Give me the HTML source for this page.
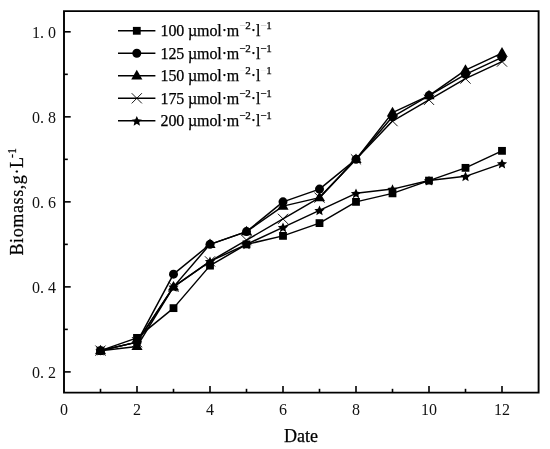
<!DOCTYPE html>
<html><head><meta charset="utf-8"><style>
html,body{margin:0;padding:0;background:#fff;width:550px;height:449px;overflow:hidden}
svg{display:block}
</style></head><body>
<svg width="550" height="449" viewBox="0 0 550 449">
<rect width="550" height="449" fill="#fff"/>
<polyline points="100.50,350.64 137.00,337.89 173.50,308.13 210.00,265.62 246.50,244.37 283.00,235.87 319.50,223.11 356.00,201.86 392.50,193.36 429.00,180.60 465.50,167.85 502.00,150.85" fill="none" stroke="#000" stroke-width="1.5" stroke-linejoin="round"/>
<rect x="96.60" y="346.75" width="7.8" height="7.8" fill="#000"/>
<rect x="133.10" y="333.99" width="7.8" height="7.8" fill="#000"/>
<rect x="169.60" y="304.24" width="7.8" height="7.8" fill="#000"/>
<rect x="206.10" y="261.73" width="7.8" height="7.8" fill="#000"/>
<rect x="242.60" y="240.47" width="7.8" height="7.8" fill="#000"/>
<rect x="279.10" y="231.97" width="7.8" height="7.8" fill="#000"/>
<rect x="315.60" y="219.21" width="7.8" height="7.8" fill="#000"/>
<rect x="352.10" y="197.96" width="7.8" height="7.8" fill="#000"/>
<rect x="388.60" y="189.46" width="7.8" height="7.8" fill="#000"/>
<rect x="425.10" y="176.70" width="7.8" height="7.8" fill="#000"/>
<rect x="461.60" y="163.95" width="7.8" height="7.8" fill="#000"/>
<rect x="498.10" y="146.95" width="7.8" height="7.8" fill="#000"/>
<polyline points="100.50,350.64 137.00,342.14 173.50,274.13 210.00,244.37 246.50,231.62 283.00,201.86 319.50,189.11 356.00,159.35 392.50,116.84 429.00,95.58 465.50,74.33 502.00,57.33" fill="none" stroke="#000" stroke-width="1.5" stroke-linejoin="round"/>
<circle cx="100.50" cy="350.64" r="4.5" fill="#000"/>
<circle cx="137.00" cy="342.14" r="4.5" fill="#000"/>
<circle cx="173.50" cy="274.13" r="4.5" fill="#000"/>
<circle cx="210.00" cy="244.37" r="4.5" fill="#000"/>
<circle cx="246.50" cy="231.62" r="4.5" fill="#000"/>
<circle cx="283.00" cy="201.86" r="4.5" fill="#000"/>
<circle cx="319.50" cy="189.11" r="4.5" fill="#000"/>
<circle cx="356.00" cy="159.35" r="4.5" fill="#000"/>
<circle cx="392.50" cy="116.84" r="4.5" fill="#000"/>
<circle cx="429.00" cy="95.58" r="4.5" fill="#000"/>
<circle cx="465.50" cy="74.33" r="4.5" fill="#000"/>
<circle cx="502.00" cy="57.33" r="4.5" fill="#000"/>
<polyline points="100.50,350.64 137.00,346.39 173.50,286.88 210.00,244.37 246.50,231.62 283.00,206.11 319.50,197.61 356.00,159.35 392.50,112.59 429.00,95.58 465.50,70.08 502.00,53.07" fill="none" stroke="#000" stroke-width="1.5" stroke-linejoin="round"/>
<polygon points="100.50,344.69 106.10,354.29 94.90,354.29" fill="#000"/>
<polygon points="137.00,340.44 142.60,350.04 131.40,350.04" fill="#000"/>
<polygon points="173.50,280.93 179.10,290.53 167.90,290.53" fill="#000"/>
<polygon points="210.00,238.42 215.60,248.02 204.40,248.02" fill="#000"/>
<polygon points="246.50,225.66 252.10,235.26 240.90,235.26" fill="#000"/>
<polygon points="283.00,200.16 288.60,209.76 277.40,209.76" fill="#000"/>
<polygon points="319.50,191.66 325.10,201.26 313.90,201.26" fill="#000"/>
<polygon points="356.00,153.40 361.60,163.00 350.40,163.00" fill="#000"/>
<polygon points="392.50,106.64 398.10,116.24 386.90,116.24" fill="#000"/>
<polygon points="429.00,89.63 434.60,99.23 423.40,99.23" fill="#000"/>
<polygon points="465.50,64.13 471.10,73.73 459.90,73.73" fill="#000"/>
<polygon points="502.00,47.12 507.60,56.72 496.40,56.72" fill="#000"/>
<polyline points="100.50,350.64 137.00,342.14 173.50,286.88 210.00,261.37 246.50,240.12 283.00,218.86 319.50,197.61 356.00,159.35 392.50,121.09 429.00,99.84 465.50,78.58 502.00,61.58" fill="none" stroke="#000" stroke-width="1.5" stroke-linejoin="round"/>
<path d="M95.40,345.54L105.60,355.75M105.60,345.54L95.40,355.75" stroke="#000" stroke-width="0.9" fill="none"/>
<path d="M131.90,337.04L142.10,347.24M142.10,337.04L131.90,347.24" stroke="#000" stroke-width="0.9" fill="none"/>
<path d="M168.40,281.78L178.60,291.98M178.60,281.78L168.40,291.98" stroke="#000" stroke-width="0.9" fill="none"/>
<path d="M204.90,256.27L215.10,266.47M215.10,256.27L204.90,266.47" stroke="#000" stroke-width="0.9" fill="none"/>
<path d="M241.40,235.02L251.60,245.22M251.60,235.02L241.40,245.22" stroke="#000" stroke-width="0.9" fill="none"/>
<path d="M277.90,213.76L288.10,223.96M288.10,213.76L277.90,223.96" stroke="#000" stroke-width="0.9" fill="none"/>
<path d="M314.40,192.51L324.60,202.71M324.60,192.51L314.40,202.71" stroke="#000" stroke-width="0.9" fill="none"/>
<path d="M350.90,154.25L361.10,164.45M361.10,154.25L350.90,164.45" stroke="#000" stroke-width="0.9" fill="none"/>
<path d="M387.40,115.99L397.60,126.19M397.60,115.99L387.40,126.19" stroke="#000" stroke-width="0.9" fill="none"/>
<path d="M423.90,94.74L434.10,104.94M434.10,94.74L423.90,104.94" stroke="#000" stroke-width="0.9" fill="none"/>
<path d="M460.40,73.48L470.60,83.68M470.60,73.48L460.40,83.68" stroke="#000" stroke-width="0.9" fill="none"/>
<path d="M496.90,56.48L507.10,66.68M507.10,56.48L496.90,66.68" stroke="#000" stroke-width="0.9" fill="none"/>
<polyline points="100.50,350.64 137.00,342.14 173.50,286.88 210.00,261.37 246.50,244.37 283.00,227.37 319.50,210.36 356.00,193.36 392.50,189.11 429.00,180.60 465.50,176.35 502.00,163.60" fill="none" stroke="#000" stroke-width="1.5" stroke-linejoin="round"/>
<polygon points="100.50,345.75 101.97,349.12 105.64,349.48 102.88,351.92 103.67,355.51 100.50,353.64 97.33,355.51 98.12,351.92 95.36,349.48 99.03,349.12" fill="#000"/>
<polygon points="137.00,337.24 138.47,340.62 142.14,340.97 139.38,343.42 140.17,347.01 137.00,345.14 133.83,347.01 134.62,343.42 131.86,340.97 135.53,340.62" fill="#000"/>
<polygon points="173.50,281.98 174.97,285.36 178.64,285.71 175.88,288.15 176.67,291.75 173.50,289.88 170.33,291.75 171.12,288.15 168.36,285.71 172.03,285.36" fill="#000"/>
<polygon points="210.00,256.47 211.47,259.85 215.14,260.21 212.38,262.65 213.17,266.24 210.00,264.37 206.83,266.24 207.62,262.65 204.86,260.21 208.53,259.85" fill="#000"/>
<polygon points="246.50,239.47 247.97,242.85 251.64,243.20 248.88,245.64 249.67,249.24 246.50,247.37 243.33,249.24 244.12,245.64 241.36,243.20 245.03,242.85" fill="#000"/>
<polygon points="283.00,222.47 284.47,225.84 288.14,226.20 285.38,228.64 286.17,232.23 283.00,230.37 279.83,232.23 280.62,228.64 277.86,226.20 281.53,225.84" fill="#000"/>
<polygon points="319.50,205.46 320.97,208.84 324.64,209.19 321.88,211.63 322.67,215.23 319.50,213.36 316.33,215.23 317.12,211.63 314.36,209.19 318.03,208.84" fill="#000"/>
<polygon points="356.00,188.46 357.47,191.84 361.14,192.19 358.38,194.63 359.17,198.23 356.00,196.36 352.83,198.23 353.62,194.63 350.86,192.19 354.53,191.84" fill="#000"/>
<polygon points="392.50,184.21 393.97,187.58 397.64,187.94 394.88,190.38 395.67,193.98 392.50,192.11 389.33,193.98 390.12,190.38 387.36,187.94 391.03,187.58" fill="#000"/>
<polygon points="429.00,175.70 430.47,179.08 434.14,179.44 431.38,181.88 432.17,185.47 429.00,183.60 425.83,185.47 426.62,181.88 423.86,179.44 427.53,179.08" fill="#000"/>
<polygon points="465.50,171.45 466.97,174.83 470.64,175.19 467.88,177.63 468.67,181.22 465.50,179.35 462.33,181.22 463.12,177.63 460.36,175.19 464.03,174.83" fill="#000"/>
<polygon points="502.00,158.70 503.47,162.08 507.14,162.43 504.38,164.87 505.17,168.47 502.00,166.60 498.83,168.47 499.62,164.87 496.86,162.43 500.53,162.08" fill="#000"/>
<path d="M64.0,11.1H538.6V392.6H64.0Z" fill="none" stroke="#000" stroke-width="1.9" stroke-linejoin="miter"/>
<line x1="64.0" y1="371.90" x2="70.7" y2="371.90" stroke="#000" stroke-width="1.6"/>
<line x1="64.0" y1="329.39" x2="67.8" y2="329.39" stroke="#000" stroke-width="1.6"/>
<line x1="64.0" y1="286.88" x2="70.7" y2="286.88" stroke="#000" stroke-width="1.6"/>
<line x1="64.0" y1="244.37" x2="67.8" y2="244.37" stroke="#000" stroke-width="1.6"/>
<line x1="64.0" y1="201.86" x2="70.7" y2="201.86" stroke="#000" stroke-width="1.6"/>
<line x1="64.0" y1="159.35" x2="67.8" y2="159.35" stroke="#000" stroke-width="1.6"/>
<line x1="64.0" y1="116.84" x2="70.7" y2="116.84" stroke="#000" stroke-width="1.6"/>
<line x1="64.0" y1="74.33" x2="67.8" y2="74.33" stroke="#000" stroke-width="1.6"/>
<line x1="64.0" y1="31.82" x2="70.7" y2="31.82" stroke="#000" stroke-width="1.6"/>
<line x1="100.50" y1="392.6" x2="100.50" y2="388.8" stroke="#000" stroke-width="1.6"/>
<line x1="137.00" y1="392.6" x2="137.00" y2="386.1" stroke="#000" stroke-width="1.6"/>
<line x1="173.50" y1="392.6" x2="173.50" y2="388.8" stroke="#000" stroke-width="1.6"/>
<line x1="210.00" y1="392.6" x2="210.00" y2="386.1" stroke="#000" stroke-width="1.6"/>
<line x1="246.50" y1="392.6" x2="246.50" y2="388.8" stroke="#000" stroke-width="1.6"/>
<line x1="283.00" y1="392.6" x2="283.00" y2="386.1" stroke="#000" stroke-width="1.6"/>
<line x1="319.50" y1="392.6" x2="319.50" y2="388.8" stroke="#000" stroke-width="1.6"/>
<line x1="356.00" y1="392.6" x2="356.00" y2="386.1" stroke="#000" stroke-width="1.6"/>
<line x1="392.50" y1="392.6" x2="392.50" y2="388.8" stroke="#000" stroke-width="1.6"/>
<line x1="429.00" y1="392.6" x2="429.00" y2="386.1" stroke="#000" stroke-width="1.6"/>
<line x1="465.50" y1="392.6" x2="465.50" y2="388.8" stroke="#000" stroke-width="1.6"/>
<line x1="502.00" y1="392.6" x2="502.00" y2="386.1" stroke="#000" stroke-width="1.6"/>
<text x="32" y="38.12" font-size="16" font-family="&quot;Liberation Serif&quot;, serif" fill="#111">1. 0</text>
<text x="32" y="123.14" font-size="16" font-family="&quot;Liberation Serif&quot;, serif" fill="#111">0. 8</text>
<text x="32" y="208.16" font-size="16" font-family="&quot;Liberation Serif&quot;, serif" fill="#111">0. 6</text>
<text x="32" y="293.18" font-size="16" font-family="&quot;Liberation Serif&quot;, serif" fill="#111">0. 4</text>
<text x="32" y="378.20" font-size="16" font-family="&quot;Liberation Serif&quot;, serif" fill="#111">0. 2</text>
<text x="64.00" y="415" font-size="16" font-family="&quot;Liberation Serif&quot;, serif" text-anchor="middle" fill="#111">0</text>
<text x="137.00" y="415" font-size="16" font-family="&quot;Liberation Serif&quot;, serif" text-anchor="middle" fill="#111">2</text>
<text x="210.00" y="415" font-size="16" font-family="&quot;Liberation Serif&quot;, serif" text-anchor="middle" fill="#111">4</text>
<text x="283.00" y="415" font-size="16" font-family="&quot;Liberation Serif&quot;, serif" text-anchor="middle" fill="#111">6</text>
<text x="356.00" y="415" font-size="16" font-family="&quot;Liberation Serif&quot;, serif" text-anchor="middle" fill="#111">8</text>
<text x="429.00" y="415" font-size="16" font-family="&quot;Liberation Serif&quot;, serif" text-anchor="middle" fill="#111">10</text>
<text x="502.00" y="415" font-size="16" font-family="&quot;Liberation Serif&quot;, serif" text-anchor="middle" fill="#111">12</text>
<text x="301" y="441.6" font-size="18" font-family="&quot;Liberation Serif&quot;, serif" stroke="#000" stroke-width="0.25" text-anchor="middle" fill="#000">Date</text>
<text transform="translate(22.7,255.5) rotate(-90) scale(0.95,1)" font-size="19" letter-spacing="0.62" font-family="&quot;Liberation Serif&quot;, serif" stroke="#000" stroke-width="0.25" fill="#000">Biomass,g·L<tspan dy="-6.8" dx="-1.8" font-size="12">-1</tspan></text>
<line x1="118" y1="30.80" x2="155.4" y2="30.80" stroke="#000" stroke-width="1.6"/>
<rect x="132.90" y="26.90" width="7.8" height="7.8" fill="#000"/>
<text x="160.5" y="36.00" font-size="16" letter-spacing="-0.12" font-family="&quot;Liberation Serif&quot;, serif" stroke="#000" stroke-width="0.25" fill="#000">100 µmol·m<tspan dy="-7" font-size="11"><tspan fill="#c8c8c8" stroke="#c8c8c8">−</tspan>2</tspan><tspan dy="7">·l</tspan><tspan dy="-7" font-size="11"><tspan fill="#c8c8c8" stroke="#c8c8c8">−</tspan>1</tspan></text>
<line x1="118" y1="53.30" x2="155.4" y2="53.30" stroke="#000" stroke-width="1.6"/>
<circle cx="136.80" cy="53.30" r="4.5" fill="#000"/>
<text x="160.5" y="58.50" font-size="16" letter-spacing="-0.12" font-family="&quot;Liberation Serif&quot;, serif" stroke="#000" stroke-width="0.25" fill="#000">125 µmol·m<tspan dy="-7" font-size="11"><tspan fill="#000" stroke="#000">−</tspan>2</tspan><tspan dy="7">·l</tspan><tspan dy="-7" font-size="11"><tspan fill="#000" stroke="#000">−</tspan>1</tspan></text>
<line x1="118" y1="75.80" x2="155.4" y2="75.80" stroke="#000" stroke-width="1.6"/>
<polygon points="136.80,69.85 142.40,79.45 131.20,79.45" fill="#000"/>
<text x="160.5" y="81.00" font-size="16" letter-spacing="-0.12" font-family="&quot;Liberation Serif&quot;, serif" stroke="#000" stroke-width="0.25" fill="#000">150 µmol·m<tspan dy="-7" font-size="11"><tspan fill="#eeeeee" stroke="#eeeeee">−</tspan>2</tspan><tspan dy="7">·l</tspan><tspan dy="-7" font-size="11"><tspan fill="#eeeeee" stroke="#eeeeee">−</tspan>1</tspan></text>
<line x1="118" y1="98.30" x2="155.4" y2="98.30" stroke="#000" stroke-width="1.6"/>
<path d="M131.70,93.20L141.90,103.40M141.90,93.20L131.70,103.40" stroke="#000" stroke-width="0.9" fill="none"/>
<text x="160.5" y="103.50" font-size="16" letter-spacing="-0.12" font-family="&quot;Liberation Serif&quot;, serif" stroke="#000" stroke-width="0.25" fill="#000">175 µmol·m<tspan dy="-7" font-size="11"><tspan fill="#000" stroke="#000">−</tspan>2</tspan><tspan dy="7">·l</tspan><tspan dy="-7" font-size="11"><tspan fill="#000" stroke="#000">−</tspan>1</tspan></text>
<line x1="118" y1="120.80" x2="155.4" y2="120.80" stroke="#000" stroke-width="1.6"/>
<polygon points="136.80,115.90 138.27,119.28 141.94,119.63 139.18,122.07 139.97,125.67 136.80,123.80 133.63,125.67 134.42,122.07 131.66,119.63 135.33,119.28" fill="#000"/>
<text x="160.5" y="126.00" font-size="16" letter-spacing="-0.12" font-family="&quot;Liberation Serif&quot;, serif" stroke="#000" stroke-width="0.25" fill="#000">200 µmol·m<tspan dy="-7" font-size="11"><tspan fill="#000" stroke="#000">−</tspan>2</tspan><tspan dy="7">·l</tspan><tspan dy="-7" font-size="11"><tspan fill="#000" stroke="#000">−</tspan>1</tspan></text>
</svg>
</body></html>
